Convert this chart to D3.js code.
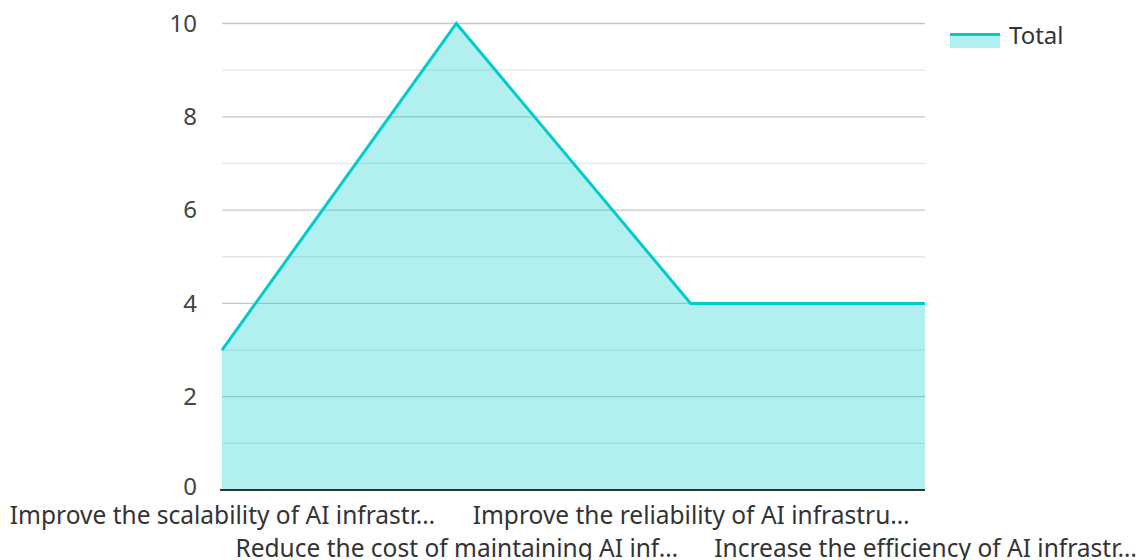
<!DOCTYPE html>
<html><head><meta charset="utf-8">
<script src="https://cdn.jsdelivr.net/npm/d3@7"></script>
<style>body{margin:0;background:#fff;}svg{display:block;font-family:"Noto Sans",sans-serif;}</style>
</head><body>
<svg id="c" width="1142" height="560"></svg>
<script>
const categories = [
  "Improve the scalability of AI infrastr…",
  "Reduce the cost of maintaining AI inf…",
  "Improve the reliability of AI infrastru…",
  "Increase the efficiency of AI infrastr…"
];
const seriesName = "Total";
const totals = [3, 10, 4, 4];
const yTicks = [0, 2, 4, 6, 8, 10];
const yMinor = [1, 3, 5, 7, 9];

const svg = d3.select("#c");
const m = {l: 222, r: 925, t: 23.5, b: 490};
const x = d3.scalePoint().domain(categories).range([m.l, m.r]);
const y = d3.scaleLinear().domain([0, 10]).range([m.b, m.t]);

// gridlines
svg.append("g").selectAll("line").data(yMinor).join("line")
  .attr("x1", m.l).attr("x2", m.r).attr("y1", d => y(d)).attr("y2", d => y(d))
  .attr("stroke", "#e6e6e6").attr("stroke-width", 1.3);
svg.append("g").selectAll("line").data(yTicks.filter(d => d > 0)).join("line")
  .attr("x1", m.l).attr("x2", m.r).attr("y1", d => y(d)).attr("y2", d => y(d))
  .attr("stroke", "#c6c6c6").attr("stroke-width", 1.3);

const data = categories.map((c, i) => ({c, v: totals[i]}));
const area = d3.area().x(d => x(d.c)).y0(y(0)).y1(d => y(d.v));
const line = d3.line().x(d => x(d.c)).y(d => y(d.v));
svg.append("path").datum(data).attr("d", area).attr("fill", "#00cccc").attr("fill-opacity", 0.3);
svg.append("path").datum(data).attr("d", line).attr("fill", "none").attr("stroke", "#00cccc").attr("stroke-width", 3);

// axis baseline
svg.append("line").attr("x1", m.l - 2).attr("x2", m.r).attr("y1", y(0)).attr("y2", y(0))
  .attr("stroke", "#333").attr("stroke-width", 2);

// y tick labels
const ya = d3.axisLeft(y).tickValues(yTicks).tickSize(0).tickPadding(25).tickFormat(d3.format("d"));
const yg = svg.append("g").attr("transform", `translate(${m.l},0)`).call(ya);
yg.select(".domain").remove();
yg.attr("font-size", null).attr("font-family", null);
yg.selectAll("text").style("font-size", "24px").attr("fill", "#444").style("font-family", "Noto Sans");
yg.selectAll(".tick").filter(d => d === 0).select("text").attr("dy", "0.2em");

// x labels
const xa = d3.axisBottom(x).tickSize(0).tickPadding(0);
const xg = svg.append("g").attr("transform", `translate(0,${m.b})`).call(xa);
xg.select(".domain").remove();
xg.attr("font-size", null).attr("font-family", null);
xg.selectAll("text").style("font-size", "24.5px").attr("fill", "#333").style("font-family", "Noto Sans")
  .attr("dy", null)
  .attr("y", (d, i) => i % 2 === 0 ? 34 : 67);

// legend
const lg = svg.append("g").attr("transform", "translate(950,33)");
lg.append("rect").attr("x", 0).attr("y", 0).attr("width", 50).attr("height", 15).attr("fill", "#00cccc").attr("fill-opacity", 0.3);
lg.append("line").attr("x1", 0).attr("x2", 50).attr("y1", 1.5).attr("y2", 1.5).attr("stroke", "#00cccc").attr("stroke-width", 3);
lg.append("text").attr("x", 59).attr("y", 11).style("font-size", "24px").attr("fill", "#333").text(seriesName);
</script>
</body></html>
